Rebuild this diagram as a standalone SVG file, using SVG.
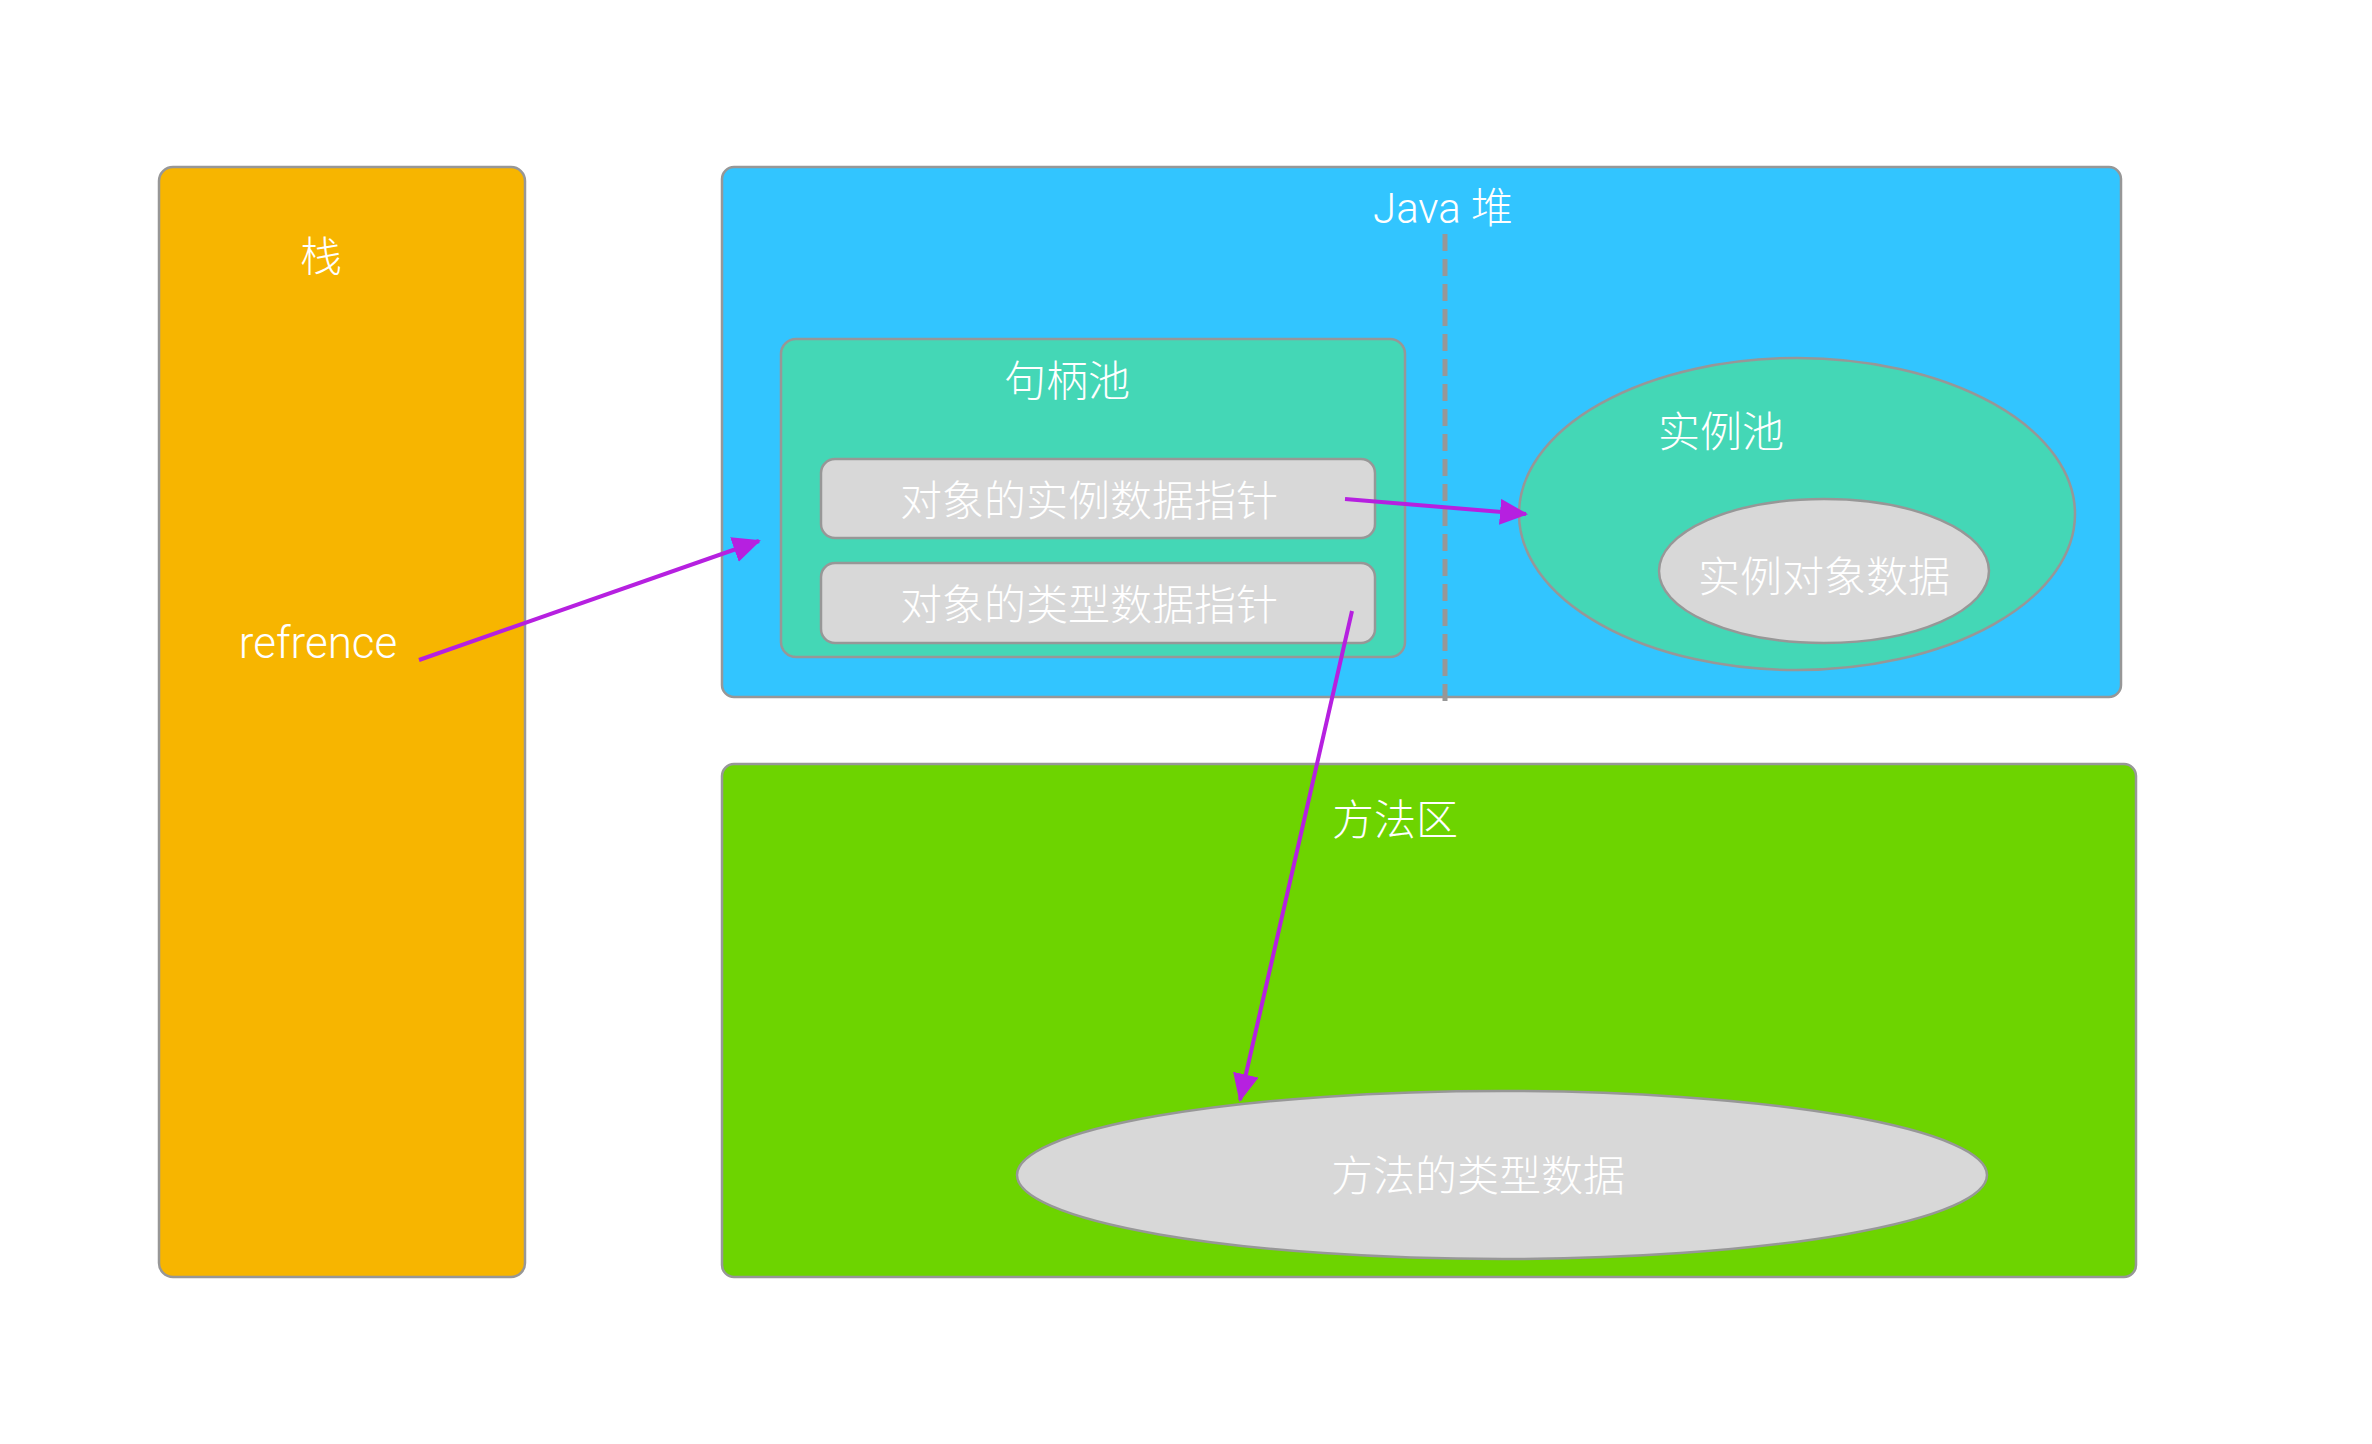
<svg xmlns="http://www.w3.org/2000/svg" width="2372" height="1444" viewBox="0 0 2372 1444">
  <style>
    .box { stroke: #979797; stroke-width: 2.5; }
    .lbl { fill: #FFFFFF; font-family: "Noto Sans CJK SC", "Noto Sans", sans-serif; font-weight: 300; text-anchor: middle; font-size: 42px; }
    .lat { fill: #FFFFFF; font-family: Roboto, "Liberation Sans", "Noto Sans CJK SC", sans-serif; font-weight: 300; text-anchor: middle; }
    .conn { stroke: #B620E0; stroke-width: 4; fill: none; marker-end: url(#arrow); }
  </style>
  <defs>
    <marker id="arrow" viewBox="0 0 28 26" refX="26" refY="13" markerWidth="28" markerHeight="26" markerUnits="userSpaceOnUse" orient="auto">
      <path d="M0,0 L28,13 L0,26 z" fill="#B620E0"/>
    </marker>
  </defs>
  <rect width="2372" height="1444" fill="#FFFFFF"/>

  <g id="stack">
    <rect class="box" x="159" y="167" width="366" height="1110" rx="14" fill="#F7B500"/>
    <text class="lbl" x="321" y="272">栈</text>
    <text class="lat" x="318" y="658" font-size="44">refrence</text>
  </g>

  <g id="java-heap">
    <rect class="box" x="722" y="167" width="1399" height="530" rx="12" fill="#32C5FF"/>
    <text class="lat" x="1443" y="223" font-size="42">Java 堆</text>
    <line x1="1445" y1="234" x2="1445" y2="702" stroke="#979797" stroke-width="5" stroke-dasharray="17,8"/>
  </g>

  <g id="handle-pool">
    <rect class="box" x="781" y="339" width="624" height="318" rx="15" fill="#44D7B6"/>
    <text class="lbl" x="1067" y="396">句柄池</text>
  </g>

  <g id="instance-pointer">
    <rect class="box" x="821" y="459" width="554" height="79" rx="14" fill="#D8D8D8"/>
    <text class="lbl" x="1089" y="516">对象的实例数据指针</text>
  </g>

  <g id="type-pointer">
    <rect class="box" x="821" y="563" width="554" height="80" rx="14" fill="#D8D8D8"/>
    <text class="lbl" x="1089" y="620">对象的类型数据指针</text>
  </g>

  <g id="instance-pool">
    <ellipse class="box" cx="1797" cy="514" rx="278" ry="156" fill="#44D7B6"/>
    <text class="lbl" x="1721" y="447">实例池</text>
  </g>

  <g id="instance-data">
    <ellipse class="box" cx="1824" cy="571" rx="165" ry="72" fill="#D8D8D8"/>
    <text class="lbl" x="1824" y="592">实例对象数据</text>
  </g>

  <g id="method-area">
    <rect class="box" x="722" y="764" width="1414" height="513" rx="12" fill="#6DD400"/>
    <text class="lbl" x="1395" y="835">方法区</text>
  </g>

  <g id="method-type-data">
    <ellipse class="box" cx="1502" cy="1175" rx="485" ry="84" fill="#D8D8D8"/>
    <text class="lbl" x="1478" y="1191">方法的类型数据</text>
  </g>

  <g id="connectors">
    <line class="conn" x1="419" y1="660" x2="759" y2="541"/>
    <line class="conn" x1="1345" y1="499" x2="1526" y2="514"/>
    <line class="conn" x1="1352" y1="611" x2="1240" y2="1100"/>
  </g>
</svg>
